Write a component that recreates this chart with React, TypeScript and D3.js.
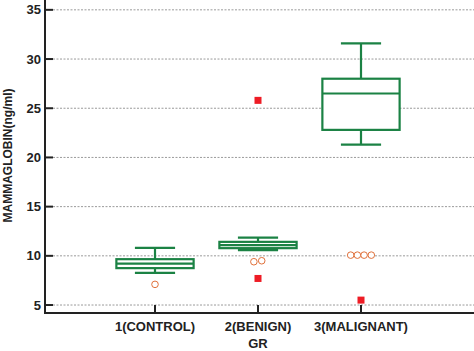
import React from "react";
import * as d3 from "d3";

const categories = ["1(CONTROL)", "2(BENIGN)", "3(MALIGNANT)"];
// box stats: whiskerLow, q1, median, q3, whiskerHigh
const whiskerLow = [8.27, 10.58, 21.3];
const q1 = [8.75, 10.78, 22.8];
const median = [9.2, 11.09, 26.5];
const q3 = [9.66, 11.42, 28.0];
const whiskerHigh = [10.8, 11.86, 31.6];
// outliers (open circles): group index, jitter (in category units), value
const circleGroup = [0, 1, 1, 2, 2, 2, 2];
const circleJitter = [0, -0.04, 0.036, -0.1, -0.035, 0.03, 0.1];
const circleValue = [7.1, 9.4, 9.5, 10.07, 10.07, 10.07, 10.07];
// extreme values (filled squares)
const squareGroup = [1, 1, 2];
const squareValue = [25.8, 7.7, 5.5];
const yTicks = [5, 10, 15, 20, 25, 30, 35];

const W = 474;
const H = 351;
const GREEN = "#1b8244";
const FONT = "Arial, 'Liberation Sans', Helvetica, sans-serif";

export default function App() {
  const y = d3.scaleLinear().domain([4.19, 36.0]).range([313, 0]);
  const x = d3.scaleLinear().domain([1, 3]).range([155, 361]);
  const axisX = 45;
  const axisY = 313;
  const boxHalf = 0.375;
  const capHalf = 0.195;

  return (
    <svg
      width={W}
      height={H}
      style={{ position: "absolute", left: 0, top: 0, background: "#fff" }}
      fontFamily={FONT}
    >
      {/* grid lines */}
      {yTicks.map((t) => (
        <line
          key={"g" + t}
          x1={axisX + 8}
          x2={W}
          y1={y(t)}
          y2={y(t)}
          stroke="#9a9a9a"
          strokeWidth={1}
          strokeDasharray="2,1.5"
        />
      ))}
      {/* boxes */}
      {categories.map((c, i) => {
        const cx = x(i + 1);
        const bl = x(i + 1 - boxHalf);
        const br = x(i + 1 + boxHalf);
        const cl = x(i + 1 - capHalf);
        const cr = x(i + 1 + capHalf);
        return (
          <g key={c} stroke={GREEN} strokeWidth={2.2} fill="none">
            <line x1={cx} x2={cx} y1={y(whiskerHigh[i])} y2={y(q3[i])} />
            <line x1={cx} x2={cx} y1={y(q1[i])} y2={y(whiskerLow[i])} />
            <line x1={cl} x2={cr} y1={y(whiskerHigh[i])} y2={y(whiskerHigh[i])} />
            <line x1={cl} x2={cr} y1={y(whiskerLow[i])} y2={y(whiskerLow[i])} />
            <rect
              x={bl}
              y={y(q3[i])}
              width={br - bl}
              height={y(q1[i]) - y(q3[i])}
              fill="#fff"
            />
            <line x1={bl} x2={br} y1={y(median[i])} y2={y(median[i])} />
          </g>
        );
      })}
      {/* circles */}
      {circleValue.map((v, i) => (
        <circle
          key={"c" + i}
          cx={x(circleGroup[i] + 1 + circleJitter[i])}
          cy={y(v)}
          r={3.3}
          fill="#fff"
          stroke="#e0703a"
          strokeWidth={1}
        />
      ))}
      {/* squares */}
      {squareValue.map((v, i) => (
        <rect
          key={"s" + i}
          x={x(squareGroup[i] + 1) - 3.5}
          y={y(v) - 3.5}
          width={7}
          height={7}
          fill="#ee1c25"
        />
      ))}
      {/* axes */}
      <line x1={axisX} x2={axisX} y1={0} y2={axisY + 1} stroke="#222" strokeWidth={2} />
      <line x1={axisX - 1} x2={W} y1={axisY} y2={axisY} stroke="#222" strokeWidth={2} />
      {yTicks.map((t) => (
        <g key={"t" + t}>
          <line x1={axisX} x2={axisX + 8} y1={y(t)} y2={y(t)} stroke="#222" strokeWidth={2} />
          <text
            x={axisX - 4}
            y={y(t)}
            dy="0.35em"
            textAnchor="end"
            fontSize={13}
            fontWeight="bold"
            fill="#222"
          >
            {t}
          </text>
        </g>
      ))}
      {categories.map((c, i) => (
        <g key={"x" + c}>
          <line
            x1={x(i + 1)}
            x2={x(i + 1)}
            y1={axisY - 8}
            y2={axisY}
            stroke="#222"
            strokeWidth={2}
          />
          <text
            x={x(i + 1)}
            y={326}
            dy="0.35em"
            textAnchor="middle"
            fontSize={13}
            fontWeight="bold"
            fill="#222"
          >
            {c}
          </text>
        </g>
      ))}
      <text
        x={x(2)}
        y={343}
        dy="0.35em"
        textAnchor="middle"
        fontSize={13}
        fontWeight="bold"
        fill="#222"
      >
        GR
      </text>
      <text
        transform={`translate(8,${y(20.2)}) rotate(-90)`}
        dy="0.35em"
        textAnchor="middle"
        fontSize={12}
        fontWeight="bold"
        fill="#222"
      >
        MAMMAGLOBIN(ng/ml)
      </text>
    </svg>
  );
}
